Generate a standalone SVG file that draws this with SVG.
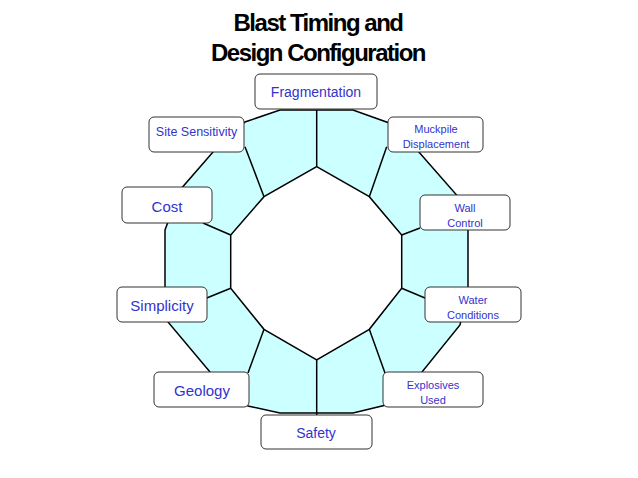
<svg xmlns="http://www.w3.org/2000/svg" width="638" height="478" viewBox="0 0 638 478">
<style>
.ring{fill:#ccffff;stroke:#000;stroke-width:1.5}
.hole{fill:#fff;stroke:#000;stroke-width:1.5}
.div line{stroke:#000;stroke-width:1.5}
.box{fill:#fff;stroke:#333;stroke-width:1}
.t{font-family:"Liberation Sans",Arial,sans-serif;fill:#3333cc;text-anchor:middle}
.title{font-family:"Liberation Sans",Arial,sans-serif;font-weight:bold;font-size:24px;fill:#000;text-anchor:middle;letter-spacing:-1.5px}
</style>
<rect width="638" height="478" fill="#fff"/>
<text class="title" x="318" y="31">Blast Timing and</text>
<text class="title" x="318" y="61">Design Configuration</text>
<g id="ring">
<polygon class="ring" points="280,110 353,110 392,124 418,151 461,200 468,230 468,290 460,325 422,372 386,405 353,413 280,413 248,406 210,372 168,322 165,290 165,230 180,190 213,152 245,122"/>
<polygon class="hole" points="316.7,166.7 369.3,196.7 401.7,235 401.7,288.3 369.3,329.3 316.7,360 264,329.3 230.7,288.3 230.7,235 264,196.7"/>
</g>
<g id="connectors" class="div">
<line x1="316.7" y1="110" x2="316.7" y2="166.7"/>
<line x1="386.7" y1="146.7" x2="369.3" y2="196.7"/>
<line x1="420" y1="228" x2="401.7" y2="235"/>
<line x1="425" y1="298" x2="401.7" y2="288.3"/>
<line x1="385" y1="373" x2="369.3" y2="329.3"/>
<line x1="316.7" y1="360" x2="316.7" y2="415"/>
<line x1="248" y1="373" x2="264" y2="329.3"/>
<line x1="206.7" y1="298" x2="230.7" y2="288.3"/>
<line x1="203" y1="223" x2="230.7" y2="235"/>
<line x1="245" y1="146.7" x2="264" y2="196.7"/>
</g>
<g id="fragmentation"><rect class="box" x="255" y="74" width="122" height="35" rx="5"/><text class="t" x="316" y="97" font-size="14">Fragmentation</text></g>
<g id="site"><rect class="box" x="149" y="117" width="95" height="35" rx="5"/><text class="t" x="196.5" y="136" font-size="12.5">Site Sensitivity</text></g>
<g id="muckpile"><rect class="box" x="388" y="117" width="95" height="35" rx="5"/><text class="t" x="436" y="133" font-size="11">Muckpile</text><text class="t" x="436" y="148" font-size="11">Displacement</text></g>
<g id="cost"><rect class="box" x="122" y="187" width="90" height="36" rx="5"/><text class="t" x="167" y="212" font-size="15">Cost</text></g>
<g id="wall"><rect class="box" x="420" y="195" width="90" height="35" rx="5"/><text class="t" x="465" y="212" font-size="11">Wall</text><text class="t" x="465" y="227" font-size="11">Control</text></g>
<g id="simplicity"><rect class="box" x="117" y="287" width="90" height="35" rx="5"/><text class="t" x="162" y="311" font-size="15">Simplicity</text></g>
<g id="water"><rect class="box" x="425" y="287" width="96" height="35" rx="5"/><text class="t" x="473" y="304" font-size="11">Water</text><text class="t" x="473" y="319" font-size="11">Conditions</text></g>
<g id="geology"><rect class="box" x="154" y="372" width="95" height="35" rx="5"/><text class="t" x="202" y="396" font-size="15">Geology</text></g>
<g id="explosives"><rect class="box" x="383" y="372" width="100" height="35" rx="5"/><text class="t" x="433" y="389" font-size="11">Explosives</text><text class="t" x="433" y="404" font-size="11">Used</text></g>
<g id="safety"><rect class="box" x="261" y="415" width="111" height="34" rx="5"/><text class="t" x="316" y="438" font-size="14">Safety</text></g>
</svg>
